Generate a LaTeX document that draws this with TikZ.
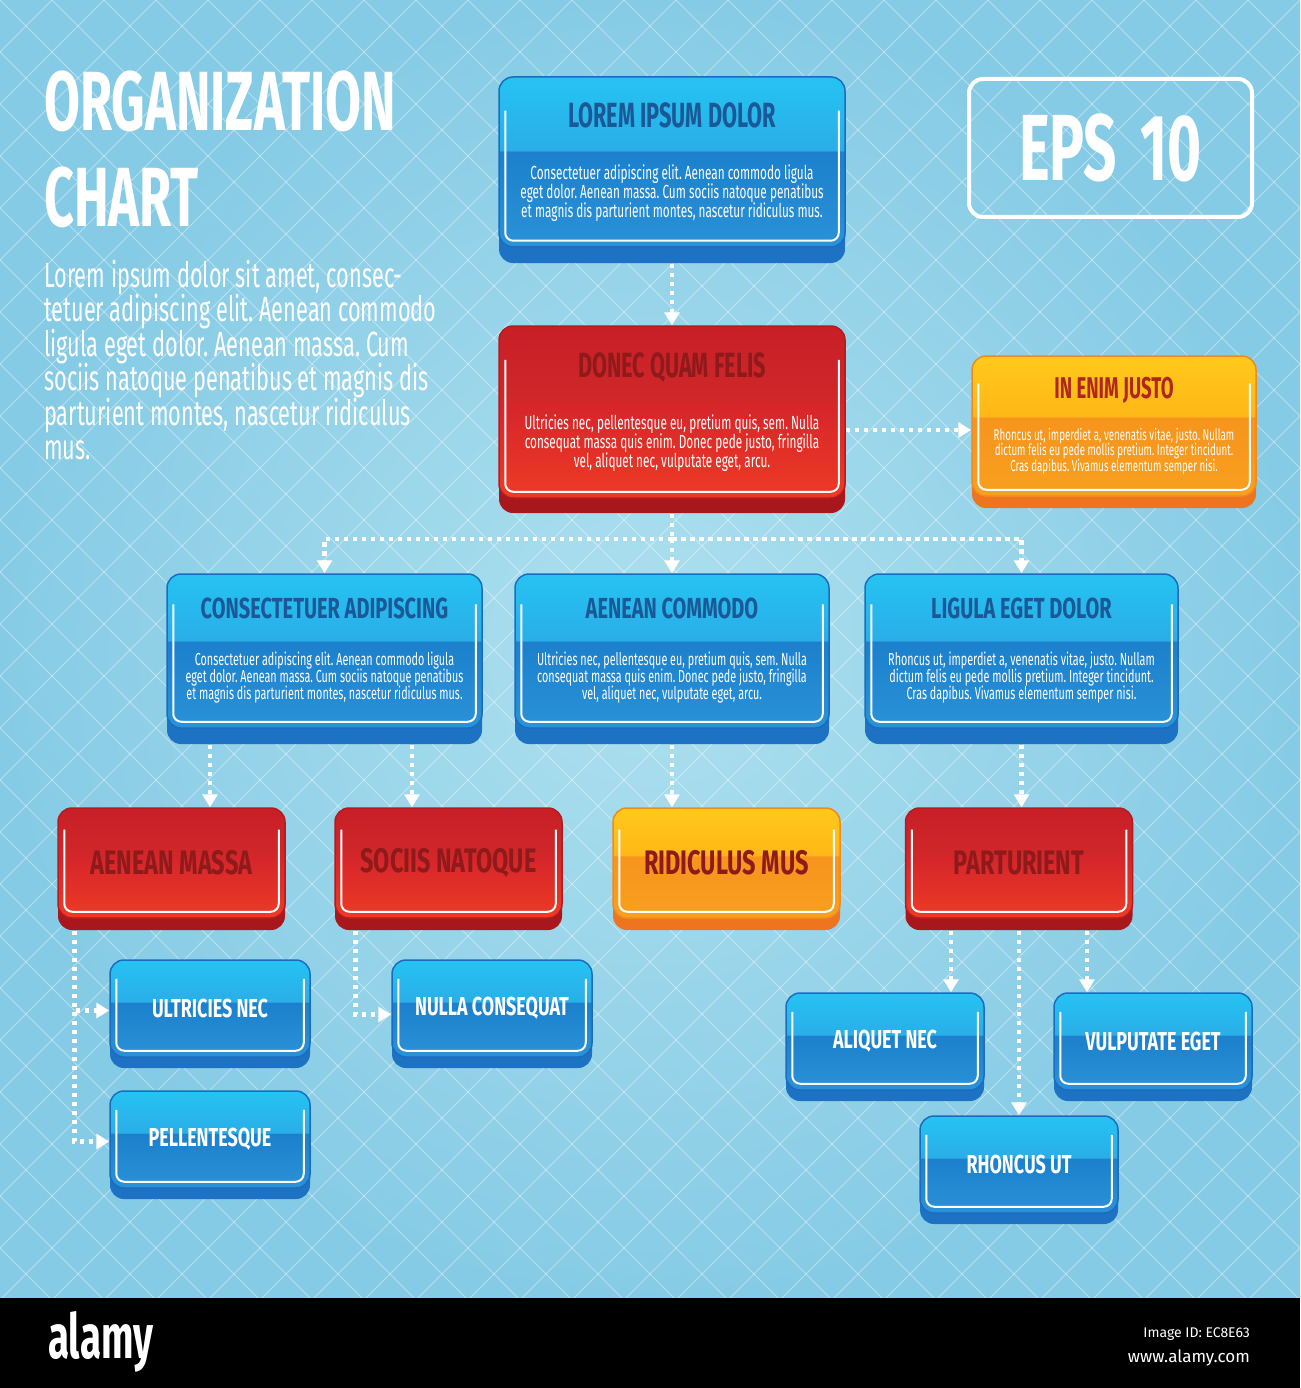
\documentclass[tikz,border=0pt]{standalone}
\usepackage{fontspec}
\setmainfont{Fira Sans}
\newfontfamily\headfont{Fira Sans}[FakeStretch=0.62]
\newfontfamily\wideheadfont{Fira Sans}[FakeStretch=0.69]
\newfontfamily\bodyfont{Fira Sans}[FakeStretch=0.62]
\usetikzlibrary{arrows.meta,calc}

\definecolor{bgout}{HTML}{86CBE5}
\definecolor{bgin}{HTML}{AEE0EF}
\definecolor{bluetop}{HTML}{25C3F2}
\definecolor{bluemid}{HTML}{2AAEE8}
\definecolor{blueband}{HTML}{1C80CC}
\definecolor{bluebot}{HTML}{2A92D8}
\definecolor{blueedge}{HTML}{1A6DBE}
\definecolor{bluelipc}{HTML}{1E72C4}
\definecolor{bluetitle}{HTML}{1A5896}
\definecolor{redtop}{HTML}{C71F26}
\definecolor{redmid}{HTML}{D02729}
\definecolor{redband}{HTML}{D5252A}
\definecolor{redbot}{HTML}{EE3A26}
\definecolor{rededge}{HTML}{B31B1F}
\definecolor{redlipc}{HTML}{A8171C}
\definecolor{redtitle}{HTML}{8E1A1C}
\definecolor{orgtop}{HTML}{FFC91A}
\definecolor{orgmid}{HTML}{FFB718}
\definecolor{orgband}{HTML}{F7941D}
\definecolor{orgbot}{HTML}{F8A01F}
\definecolor{orgedge}{HTML}{F08A1E}
\definecolor{orglipc}{HTML}{EE7420}
\definecolor{orgtitle}{HTML}{B1261B}

% face shadings: light title band on top, darker band below
\pgfdeclareverticalshading{blueface}{100bp}{color(0bp)=(bluebot); color(25bp)=(bluebot); color(53bp)=(blueband); color(53.5bp)=(bluemid); color(75bp)=(bluetop); color(100bp)=(bluetop)}
\pgfdeclareverticalshading{redface}{100bp}{color(0bp)=(redbot); color(25bp)=(redbot); color(53bp)=(redband); color(53.5bp)=(redmid); color(75bp)=(redtop); color(100bp)=(redtop)}
\pgfdeclareverticalshading{orangeface}{100bp}{color(0bp)=(orgbot); color(25bp)=(orgbot); color(53bp)=(orgband); color(53.5bp)=(orgmid); color(75bp)=(orgtop); color(100bp)=(orgtop)}

\newcommand{\orgcaps}[1]{\headfont\bfseries\fontsize{#1}{#1}\selectfont}
\newcommand{\orgwide}[1]{\wideheadfont\bfseries\fontsize{#1}{#1}\selectfont}
\newcommand{\orgcopy}[2]{\bodyfont\fontsize{#1}{#2}\selectfont\lineskiplimit=-20pt}

\tikzstyle{box} = [rectangle, rounded corners=14pt, line width=1.5pt, inner sep=0pt, text=white, align=flush center, shade]
\tikzstyle{bluebox} = [box, draw=blueedge, shading=blueface]
\tikzstyle{redbox} = [box, draw=rededge, shading=redface]
\tikzstyle{orangebox} = [box, draw=orgedge, shading=orangeface]
\tikzset{bluelip/.style={preaction={fill=bluelipc, transform canvas={yshift=-#1}}},
  redlip/.style={preaction={fill=redlipc, transform canvas={yshift=-#1}}},
  orglip/.style={preaction={fill=orglipc, transform canvas={yshift=-#1}}}}
\tikzstyle{rim} = [white, line width=2pt, rounded corners=8pt]
\tikzstyle{flow} = [white, line width=4.5pt, dash pattern=on 4.5pt off 4.5pt]
\tikzstyle{arrow} = [flow, -{Triangle[length=13pt,width=15pt]}]
\tikzstyle{gridline} = [white, opacity=0.4, line width=0.9pt]

\begin{document}
\frenchspacing
\begin{tikzpicture}[x=1pt, y=-1pt]
    \useasboundingbox (0,0) rectangle (1300,1388);
    % background
    \shade [inner color=bgin, outer color=bgout] (0,0) rectangle (1300,1298);
    \begin{scope}
      \clip (0,0) rectangle (1300,1298);
      \foreach \k in {-1352,-1300,...,1300} {
        \draw [gridline] (\k,0) -- ++(1352,1352);
        \draw [gridline] (\k+1352,0) -- ++(-1352,1352);
      }
    \end{scope}
    \fill [black] (0,1298) rectangle (1300,1388);

    % heading
    \node (head1) [anchor=base west, inner sep=0pt, text=white, font=\orgcaps{84}] at (44,131) {ORGANIZATION};
    \node (head2) [anchor=base west, inner sep=0pt, text=white, font=\orgcaps{84}] at (44,227) {CHART};
    \node (intro) [anchor=north west, inner sep=0pt, text=white, text width=430pt, align=flush left, font=\orgcopy{35}{34.4}] at (44,260)
      {Lorem ipsum dolor sit amet, consec-\\
       tetuer adipiscing elit. Aenean commodo\\
       ligula eget dolor. Aenean massa. Cum\\
       sociis natoque penatibus et magnis dis\\
       parturient montes, nascetur ridiculus\\
       mus.};
    \node (eps) [draw=white, line width=4pt, rounded corners=14pt, minimum width=283pt, minimum height=138pt, text=white, font=\orgcaps{94}] at (1110.5,148) {EPS\hspace{10pt} 10};

    % level 1 and 2
    \node (lorem) [bluebox, bluelip=16pt, minimum width=346pt, minimum height=170pt, text width=336pt, font=\orgcopy{19}{19}] at (672,162)
      {{\color{bluetitle}\orgcaps{35}LOREM IPSUM DOLOR}\\[33pt]
       Consectetuer adipiscing elit. Aenean commodo ligula\\
       eget dolor. Aenean massa. Cum sociis natoque penatibus\\
       et magnis dis parturient montes, nascetur ridiculus mus.};
    \node (donec) [redbox, redlip=15pt, minimum width=346pt, minimum height=172pt, text width=336pt, font=\orgcopy{19}{19}] at (672,412)
      {{\color{redtitle}\orgcaps{35}DONEC QUAM FELIS}\\[33pt]
       Ultricies nec, pellentesque eu, pretium quis, sem. Nulla\\
       consequat massa quis enim. Donec pede justo, fringilla\\
       vel, aliquet nec, vulputate eget, arcu.};
    \node (justo) [orangebox, orglip=12pt, minimum width=284pt, minimum height=140pt, text width=276pt, font=\orgcopy{15.7}{15.5}] at (1114,426)
      {{\color{orgtitle}\orgcaps{30}IN ENIM JUSTO}\\[26pt]
       Rhoncus ut, imperdiet a, venenatis vitae, justo. Nullam\\
       dictum felis eu pede mollis pretium. Integer tincidunt.\\
       Cras dapibus. Vivamus elementum semper nisi.};

    % level 3
    \node (consect) [bluebox, bluelip=16pt, minimum width=315pt, minimum height=154pt, text width=305pt, font=\orgcopy{17.4}{17}] at (324.5,651)
      {{\color{bluetitle}\orgwide{29}CONSECTETUER ADIPISCING}\\[30pt]
       Consectetuer adipiscing elit. Aenean commodo ligula\\
       eget dolor. Aenean massa. Cum sociis natoque penatibus\\
       et magnis dis parturient montes, nascetur ridiculus mus.};
    \node (commodo) [bluebox, bluelip=16pt, minimum width=314pt, minimum height=154pt, text width=304pt, font=\orgcopy{17.4}{17}] at (672,651)
      {{\color{bluetitle}\orgwide{29}AENEAN COMMODO}\\[30pt]
       Ultricies nec, pellentesque eu, pretium quis, sem. Nulla\\
       consequat massa quis enim. Donec pede justo, fringilla\\
       vel, aliquet nec, vulputate eget, arcu.};
    \node (ligula) [bluebox, bluelip=16pt, minimum width=313pt, minimum height=154pt, text width=303pt, font=\orgcopy{17.4}{17}] at (1021.5,651)
      {{\color{bluetitle}\orgwide{29}LIGULA EGET DOLOR}\\[30pt]
       Rhoncus ut, imperdiet a, venenatis vitae, justo. Nullam\\
       dictum felis eu pede mollis pretium. Integer tincidunt.\\
       Cras dapibus. Vivamus elementum semper nisi.};

    % level 4
    \node (massa) [redbox, redlip=12pt, minimum width=227pt, minimum height=110pt, text=redtitle, font=\orgwide{34}] at (171.5,863) {AENEAN MASSA};
    \node (sociis) [redbox, redlip=12pt, minimum width=227pt, minimum height=110pt, text=redtitle, font=\orgwide{34}] at (448.5,863) {SOCIIS NATOQUE};
    \node (ridiculus) [orangebox, orglip=12pt, minimum width=227pt, minimum height=110pt, text=redtitle, font=\orgwide{34}] at (726.5,863) {RIDICULUS MUS};
    \node (parturient) [redbox, redlip=12pt, minimum width=227pt, minimum height=110pt, text=redtitle, font=\orgwide{34}] at (1019,863) {PARTURIENT};

    % level 5
    \node (ultricies) [bluebox, bluelip=11pt, minimum width=200pt, minimum height=97pt, font=\orgwide{26}] at (210,1008.5) {ULTRICIES NEC};
    \node (pellentesque) [bluebox, bluelip=11pt, minimum width=200pt, minimum height=97pt, font=\orgwide{26}] at (210,1139.5) {PELLENTESQUE};
    \node (nulla) [bluebox, bluelip=11pt, minimum width=200pt, minimum height=97pt, font=\orgwide{26}] at (492,1008.5) {NULLA CONSEQUAT};
    \node (aliquet) [bluebox, bluelip=11pt, minimum width=198pt, minimum height=97pt, font=\orgwide{26}] at (885,1041.5) {ALIQUET NEC};
    \node (vulputate) [bluebox, bluelip=11pt, minimum width=198pt, minimum height=97pt, font=\orgwide{26}] at (1153,1041.5) {VULPUTATE EGET};
    \node (rhoncus) [bluebox, bluelip=11pt, minimum width=198pt, minimum height=97pt, font=\orgwide{26}] at (1019,1164.5) {RHONCUS UT};

    % white rim inside every box
    \foreach \n in {lorem,donec,justo,consect,commodo,ligula,massa,sociis,ridiculus,parturient,ultricies,pellentesque,nulla,aliquet,vulputate,rhoncus}
      \draw [rim] ($(\n.north west)!0.2!(\n.south west)+(7pt,0)$) |- ($(\n.south)+(0,7pt)$) -| ($(\n.north east)!0.2!(\n.south east)+(-7pt,0)$);

    % connectors
    \draw [arrow] ([yshift=-16pt]lorem.south) -- (donec.north);
    \draw [arrow] ([yshift=-4pt]donec.east |- justo.west) -- ([yshift=-4pt]justo.west);
    \coordinate (split) at ([yshift=-40pt]donec.south);
    \draw [flow] ([yshift=-15pt]donec.south) -- (split);
    \draw [arrow] (split) -- (commodo.north);
    \draw [arrow] (split) -| (consect.north);
    \draw [arrow] (split) -| (ligula.north);

    \coordinate (c1) at ([xshift=38.5pt]massa.north);
    \coordinate (c2) at ([xshift=-36.5pt]sociis.north);
    \draw [arrow] ([yshift=-16pt]consect.south -| c1) -- (c1);
    \draw [arrow] ([yshift=-16pt]consect.south -| c2) -- (c2);
    \draw [arrow] ([yshift=-16pt]commodo.south) -- (commodo.south |- ridiculus.north);
    \draw [arrow] ([yshift=-16pt]ligula.south) -- (ligula.south |- parturient.north);

    \coordinate (m1) at ([xshift=17pt,yshift=-12pt]massa.south west);
    \draw [arrow] (m1) |- ([yshift=-2pt]ultricies.west);
    \draw [arrow] (m1) |- ([yshift=-2pt]pellentesque.west);
    \coordinate (s1) at ([xshift=21pt,yshift=-12pt]sociis.south west);
    \draw [arrow] (s1) |- ([yshift=-6pt]nulla.west);
    \coordinate (p1) at ([xshift=-68pt,yshift=-12pt]parturient.south);
    \coordinate (p2) at ([xshift=68pt,yshift=-12pt]parturient.south);
    \draw [arrow] (p1) -- (p1 |- aliquet.north);
    \draw [arrow] (p2) -- (p2 |- vulputate.north);
    \draw [arrow] ([yshift=-12pt]parturient.south) -- (rhoncus.north);

    % footer
    \node (brand) [anchor=west, inner sep=0pt, text=white, font=\orgcaps{62}] at (48,1342) {alamy};
    \node (imgid) [anchor=base east, inner sep=0pt, text=white, font=\fontsize{14}{14}\selectfont] at (1250,1337) {Image ID: EC8E63};
    \node (site) [anchor=base east, inner sep=0pt, text=white, font=\fontsize{17}{17}\selectfont] at (1250,1362) {www.alamy.com};
\end{tikzpicture}
\end{document}
